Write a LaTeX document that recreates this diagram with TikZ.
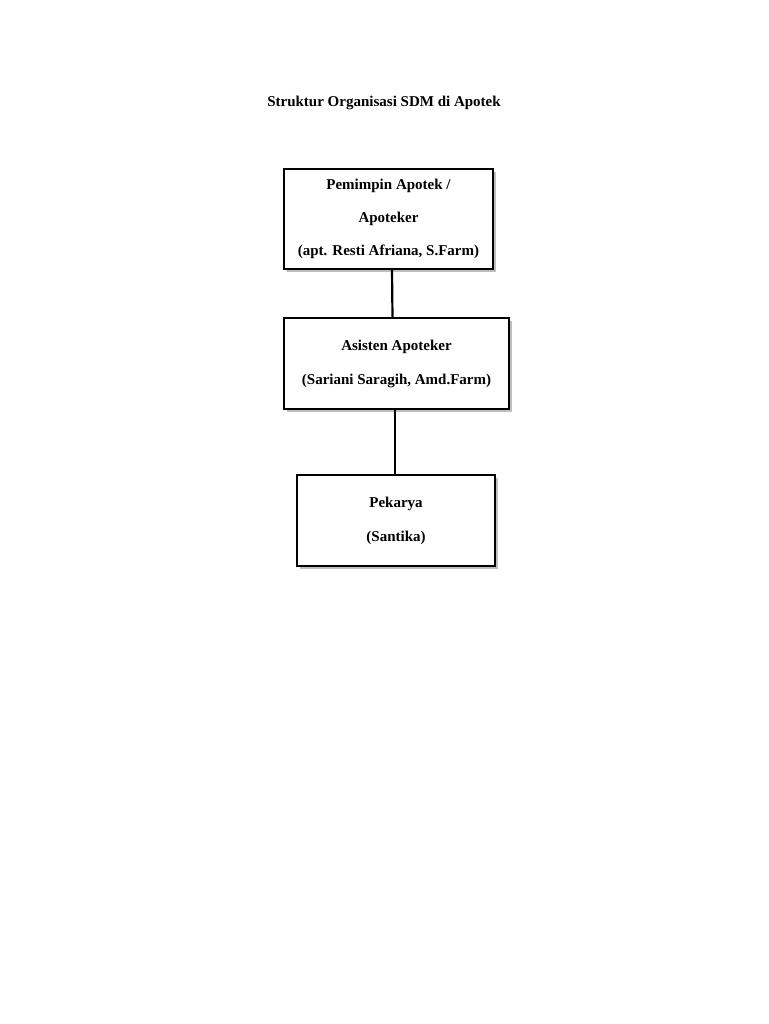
\documentclass[tikz,border=0pt]{standalone}
\usepackage{fontspec}
\setmainfont{Liberation Serif}
\usetikzlibrary{shadows}
\begin{document}
\begin{tikzpicture}[x=1pt,y=-1pt,
  orgbox/.style={draw,line width=2.6pt,fill=white,drop shadow={shadow xshift=3pt,shadow yshift=-3pt,opacity=0.5}},
  lbl/.style={font=\bfseries\fontsize{15}{17}\selectfont,anchor=center},
  conn/.style={line width=2.2pt}]
\useasboundingbox (0,0) rectangle (768,1024);
\node[lbl] (title) at (384,103) {Struktur Organisasi SDM di Apotek};
\draw[orgbox] (284,169) rectangle (493,269);
\draw[orgbox] (284,318) rectangle (509,409);
\draw[orgbox] (297,475) rectangle (495,566);
\coordinate (b1) at (392,269); \coordinate (t2) at (392.5,318);
\coordinate (b2) at (395,409); \coordinate (t3) at (395,475);
\draw[conn] (b1) -- (t2);
\draw[conn] (b2) -- (t3);
\node[lbl] (a1) at (388.5,186) {Pemimpin Apotek /};
\node[lbl] (a2) at (388.5,219) {Apoteker};
\node[lbl] (a3) at (388.5,252) {(apt. Resti Afriana, S.Farm)};
\node[lbl] (b1t) at (396.5,347) {Asisten Apoteker};
\node[lbl] (b2t) at (396.5,381) {(Sariani Saragih, Amd.Farm)};
\node[lbl] (c1) at (396,504) {Pekarya};
\node[lbl] (c2) at (396,538) {(Santika)};
\end{tikzpicture}
\end{document}
